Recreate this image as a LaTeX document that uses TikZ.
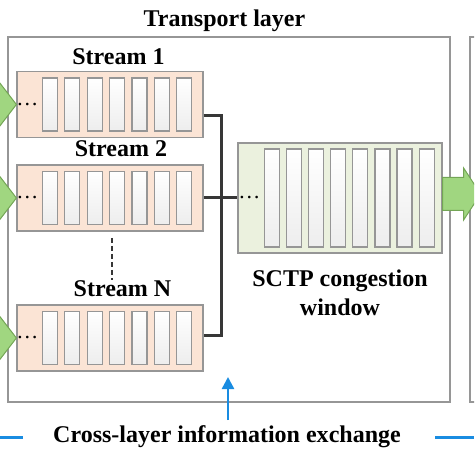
\documentclass[tikz,border=0pt]{standalone}
\usepackage{fontspec}
\setmainfont{Liberation Serif}
\usetikzlibrary{arrows.meta,positioning}
\definecolor{peach}{RGB}{251,228,213}
\definecolor{olivebg}{RGB}{235,241,222}
\definecolor{boxgray}{RGB}{150,150,150}
\definecolor{arrowgreen}{RGB}{160,214,128}
\definecolor{arrowedge}{RGB}{115,165,85}
\definecolor{crossblue}{RGB}{25,140,225}
\definecolor{wire}{RGB}{55,55,55}

\begin{document}
\begin{tikzpicture}[x=0.5pt,y=-0.5pt,
    lbl/.style={font=\fontsize{12}{14}\selectfont\bfseries,inner sep=0pt,anchor=base},
    queue/.style={draw=boxgray,line width=0.6pt,fill=peach,minimum width=93pt,minimum height=33pt,inner sep=0pt},
    window/.style={draw=boxgray,line width=0.6pt,fill=olivebg,minimum width=102pt,minimum height=55pt,inner sep=0pt},
    slot/.style={draw=boxgray,line width=0.6pt,top color=white,bottom color=gray!14,minimum width=7.5pt,inner sep=0pt},
    dots/.style={font=\fontsize{11}{12}\selectfont,inner sep=0pt},
    fatarrow/.style={fill=arrowgreen,draw=arrowedge,line width=0.5pt},
    wire/.style={draw=wire,line width=1.5pt}]
    \useasboundingbox (0,0) rectangle (474,474);
    \clip (0,0) rectangle (474,474);

    % layer boxes
    \node[draw=boxgray,line width=0.8pt,minimum width=221pt,minimum height=182.5pt,inner sep=0pt] (layer) at (229,219.5) {};
    \node[lbl] (title) at (224.5,27) {Transport layer};
    \draw[boxgray,line width=0.8pt] (470,37) rectangle (520,402);

    % streams
    \node[queue] (s1) at (110,104.5) {};
    \node[queue] (s2) at (110,198) {};
    \node[queue] (sn) at (110,338) {};
    \foreach \s in {s1,s2,sn} {
      \foreach \i in {0,...,6}
        \path (\s.west) ++(33.5+22.4*\i,0) node[slot,minimum height=26.5pt] {};
      \path (\s.west) ++(11,0) node[dots] {\dots};
      \filldraw[fatarrow] (\s.west) -- ++(-20,-26) -- ++(0,9.5) -- ++(-30,0)
        -- ++(0,33) -- ++(30,0) -- ++(0,9.5) -- cycle;
    }
    \node[lbl] (l1) at (118.5,65) {Stream 1};
    \node[lbl] (l2) at (121,157) {Stream 2};
    \node[lbl] (ln) at (122.5,297) {Stream N};
    \coordinate (d1) at (112,238);
    \coordinate (d2) at (112,280);
    \draw[wire,line width=1.3pt,dash pattern=on 2.5pt off 1.5pt] (d1) -- (d2);

    % congestion window
    \node[window] (w) at (340,198) {};
    \foreach \i in {0,...,7}
      \path (w.west) ++(34.5+22.1*\i,0) node[slot,minimum height=49pt] {};
    \path (w.west) ++(12,0) node[dots] {\dots};
    \node[lbl,align=center] (wl) at (340,315) {SCTP congestion\\window};

    % connectors
    \coordinate (bus) at (221,198);
    \draw[wire] ([yshift=-5.5pt]s1.east) -| (bus) |- ([yshift=1.5pt]sn.east);
    \draw[wire] (s2.east) -- (w.west);
    \filldraw[fatarrow] ([yshift=2pt]w.east) ++(0,-16.5) -- ++(21,0) -- ++(0,-9.5)
      -- ++(17,26) -- ++(-17,26) -- ++(0,-9.5) -- ++(-21,0) -- cycle;

    % cross-layer
    \node[lbl] (cross) at (227,442) {Cross-layer information exchange};
    \coordinate (cb) at (228,420);
    \coordinate (ct) at (228,377);
    \draw[crossblue,line width=1.2pt,-{Triangle[length=6pt,width=6pt]}] (cb) -- (ct);
    \coordinate (xl1) at (0,437);
    \coordinate (xl2) at (23,437);
    \coordinate (xr1) at (435,437);
    \coordinate (xr2) at (474,437);
    \draw[crossblue,line width=1.5pt] (xl1) -- (xl2) (xr1) -- (xr2);
\end{tikzpicture}
\end{document}
